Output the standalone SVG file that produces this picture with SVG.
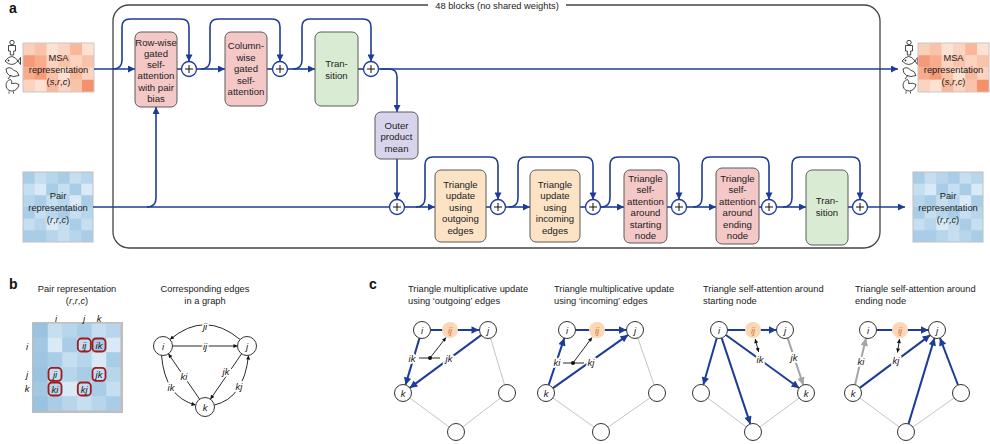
<svg xmlns="http://www.w3.org/2000/svg" xmlns:xlink="http://www.w3.org/1999/xlink" width="990" height="444" viewBox="0 0 990 444">
<style>
text{font-family:"Liberation Sans",Arial,sans-serif;fill:#222;}
.bt{font-size:9.6px;text-anchor:middle;}
.t{font-size:9.3px;}
.tc{font-size:9.3px;text-anchor:middle;}
.lab{font-size:9.5px;font-style:italic;text-anchor:middle;fill:#222;}
.halo{stroke:#fff;stroke-width:3.5px;paint-order:stroke;stroke-linejoin:round;}
.pl{font-weight:bold;font-size:14px;fill:#111;}
.box{stroke:#5a5a5a;stroke-width:1;}
.pink{fill:#f5c8c8;}
.green{fill:#d9ecd3;}
.purple{fill:#d8d4ec;}
.orange{fill:#fde3c6;}
.w{fill:none;stroke:#1d3c97;stroke-width:1.6;}
.wa{fill:none;stroke:#1d3c97;stroke-width:1.6;marker-end:url(#ab);}
.plus circle{fill:#fff;stroke:#1d3c97;stroke-width:1.3;}
.plus path{stroke:#111;stroke-width:1;fill:none;}
.nd{fill:#fff;stroke:#333;stroke-width:1;}
.gl{stroke:#c4c4c4;stroke-width:1;fill:none;}
.bl{stroke:#1d3c97;stroke-width:2;fill:none;marker-end:url(#abc);}
.ga{stroke:#a5a5a5;stroke-width:2;fill:none;marker-end:url(#ag);}
.ka{stroke:#111;stroke-width:0.9;fill:none;marker-end:url(#ak);}
.kd{stroke:#111;stroke-width:0.9;fill:none;marker-end:url(#ak);marker-start:url(#ak);}
.hl{fill:#fbd7b5;}
.hc{font-size:9.5px;font-style:italic;text-anchor:middle;fill:#d07a35;}
.rb{fill:none;stroke:#9e1b1e;stroke-width:1.8;}
.ic{fill:#fff;stroke:#333;stroke-width:0.9;}
</style>
<defs>
<marker id="ab" viewBox="0 0 10 10" refX="10" refY="5" markerUnits="userSpaceOnUse" markerWidth="9" markerHeight="7" orient="auto"><path d="M0,0 L10,5 L0,10 z" fill="#1d3c97"/></marker>
<marker id="abc" viewBox="0 0 10 10" refX="10" refY="5" markerUnits="userSpaceOnUse" markerWidth="10" markerHeight="7.5" orient="auto"><path d="M0,0 L10,5 L0,10 z" fill="#1d3c97"/></marker>
<marker id="ag" viewBox="0 0 10 10" refX="10" refY="5" markerUnits="userSpaceOnUse" markerWidth="10" markerHeight="7.5" orient="auto"><path d="M0,0 L10,5 L0,10 z" fill="#a5a5a5"/></marker>
<marker id="ak" viewBox="0 0 10 10" refX="10" refY="5" markerUnits="userSpaceOnUse" markerWidth="5" markerHeight="4" orient="auto-start-reverse"><path d="M0,0 L10,5 L0,10 z" fill="#111"/></marker>
<g id="msaTex">
<rect x="0" y="0" width="71" height="49" fill="#fbd3c0"/>
<rect x="0" y="0" width="12" height="12.3" fill="#fbd0bb"/><rect x="11.8" y="0" width="12" height="12.3" fill="#f9c3aa"/><rect x="23.6" y="0" width="12" height="12.3" fill="#fde2d4"/><rect x="35.4" y="0" width="12" height="12.3" fill="#fbd3c0"/><rect x="47.2" y="0" width="12" height="12.3" fill="#f8b89c"/><rect x="59" y="0" width="12" height="12.3" fill="#fde2d4"/>
<rect x="0" y="12.25" width="12" height="12.3" fill="#f49a78"/><rect x="11.8" y="12.25" width="12" height="12.3" fill="#f7ad8d"/><rect x="23.6" y="12.25" width="12" height="12.3" fill="#fbd3c0"/><rect x="35.4" y="12.25" width="12" height="12.3" fill="#f9c3aa"/><rect x="47.2" y="12.25" width="12" height="12.3" fill="#fbd3c0"/><rect x="59" y="12.25" width="12" height="12.3" fill="#f9c3aa"/>
<rect x="0" y="24.5" width="12" height="12.3" fill="#f7ad8d"/><rect x="11.8" y="24.5" width="12" height="12.3" fill="#f49a78"/><rect x="23.6" y="24.5" width="12" height="12.3" fill="#f9c3aa"/><rect x="35.4" y="24.5" width="12" height="12.3" fill="#fde2d4"/><rect x="47.2" y="24.5" width="12" height="12.3" fill="#f8b89c"/><rect x="59" y="24.5" width="12" height="12.3" fill="#fbd3c0"/>
<rect x="0" y="36.75" width="12" height="12.25" fill="#fbd3c0"/><rect x="11.8" y="36.75" width="12" height="12.25" fill="#fde2d4"/><rect x="23.6" y="36.75" width="12" height="12.25" fill="#f8b89c"/><rect x="35.4" y="36.75" width="12" height="12.25" fill="#fbd3c0"/><rect x="47.2" y="36.75" width="12" height="12.25" fill="#f9c3aa"/><rect x="59" y="36.75" width="12" height="12.25" fill="#f4906a"/>
<rect x="0" y="0" width="71" height="49" fill="none" stroke="#c8c8c8" stroke-width="1"/>
</g>
<g id="pairTex">
<rect x="0" y="0" width="70" height="70" fill="#b7d5eb"/>
<rect x="0" y="0" width="11.8" height="11.8" fill="#a9cde6"/><rect x="11.67" y="0" width="11.8" height="11.8" fill="#c5def0"/><rect x="23.33" y="0" width="11.8" height="11.8" fill="#b7d5eb"/><rect x="35" y="0" width="11.8" height="11.8" fill="#a9cde6"/><rect x="46.67" y="0" width="11.8" height="11.8" fill="#c5def0"/><rect x="58.33" y="0" width="11.67" height="11.8" fill="#b7d5eb"/>
<rect x="0" y="11.67" width="11.8" height="11.8" fill="#c5def0"/><rect x="11.67" y="11.67" width="11.8" height="11.8" fill="#d9e9f5"/><rect x="23.33" y="11.67" width="11.8" height="11.8" fill="#a9cde6"/><rect x="35" y="11.67" width="11.8" height="11.8" fill="#c5def0"/><rect x="46.67" y="11.67" width="11.8" height="11.8" fill="#a9cde6"/><rect x="58.33" y="11.67" width="11.67" height="11.8" fill="#d9e9f5"/>
<rect x="0" y="23.33" width="11.8" height="11.8" fill="#b7d5eb"/><rect x="11.67" y="23.33" width="11.8" height="11.8" fill="#a9cde6"/><rect x="23.33" y="23.33" width="11.8" height="11.8" fill="#c5def0"/><rect x="35" y="23.33" width="11.8" height="11.8" fill="#b7d5eb"/><rect x="46.67" y="23.33" width="11.8" height="11.8" fill="#d9e9f5"/><rect x="58.33" y="23.33" width="11.67" height="11.8" fill="#a9cde6"/>
<rect x="0" y="35" width="11.8" height="11.8" fill="#a9cde6"/><rect x="11.67" y="35" width="11.8" height="11.8" fill="#c5def0"/><rect x="23.33" y="35" width="11.8" height="11.8" fill="#b7d5eb"/><rect x="35" y="35" width="11.8" height="11.8" fill="#a9cde6"/><rect x="46.67" y="35" width="11.8" height="11.8" fill="#c5def0"/><rect x="58.33" y="35" width="11.67" height="11.8" fill="#b7d5eb"/>
<rect x="0" y="46.67" width="11.8" height="11.8" fill="#c5def0"/><rect x="11.67" y="46.67" width="11.8" height="11.8" fill="#b7d5eb"/><rect x="23.33" y="46.67" width="11.8" height="11.8" fill="#d9e9f5"/><rect x="35" y="46.67" width="11.8" height="11.8" fill="#c5def0"/><rect x="46.67" y="46.67" width="11.8" height="11.8" fill="#a9cde6"/><rect x="58.33" y="46.67" width="11.67" height="11.8" fill="#c5def0"/>
<rect x="0" y="58.33" width="11.8" height="11.67" fill="#a9cde6"/><rect x="11.67" y="58.33" width="11.8" height="11.67" fill="#a9cde6"/><rect x="23.33" y="58.33" width="11.8" height="11.67" fill="#b7d5eb"/><rect x="35" y="58.33" width="11.8" height="11.67" fill="#c5def0"/><rect x="46.67" y="58.33" width="11.8" height="11.67" fill="#b7d5eb"/><rect x="58.33" y="58.33" width="11.67" height="11.67" fill="#a9cde6"/>
<rect x="0" y="0" width="70" height="70" fill="none" stroke="#c0c0c0" stroke-width="1"/>
</g>
<g id="icons">
<circle class="ic" cx="9" cy="2.5" r="2.2"/>
<path class="ic" d="M5.5,5.5 h7 v5.5 h-1.8 v4 h-3.4 v-4 h-1.8 z"/>
<path class="ic" d="M2,21 Q9,12 15,21 Q9,28 2,21 z M15,21 l2.5,-3.5 v7 z"/>
<circle cx="5.5" cy="20.5" r="0.9" fill="#333"/>
<path class="ic" d="M3,29 q4,-3 7.5,1 q4.5,1 5.5,5.5 q-5.5,2 -9.5,0 q-3.5,-2 -3.5,-6.5 z M8,35 l-3,4"/>
<path class="ic" d="M3,46 q0,-5.5 4.5,-6.5 q2,2 1,4 q4.5,-1 7.5,1 q-1,5.5 -6.5,6.5 q-5.5,0 -6.5,-5 z M6,51.5 v2 M10.5,51.5 v2"/>
</g>
</defs>

<rect width="990" height="444" fill="#fff"/>

<text class="pl" x="9" y="13">a</text>
<text class="pl" x="9" y="289">b</text>
<text class="pl" x="369" y="289">c</text>

<!-- frame -->
<g id="frame">
<rect x="113" y="5" width="767" height="243" rx="16" fill="none" stroke="#444" stroke-width="1.3"/>
<rect x="428" y="0" width="138" height="11" fill="#fff"/>
<text class="tc" x="497" y="8.5">48 blocks (no shared weights)</text>
</g>

<!-- inputs / outputs -->
<g id="msa-in">
<use xlink:href="#icons" x="3" y="40"/>
<use xlink:href="#msaTex" x="23" y="43"/>
<text class="tc" x="58.5" y="61">MSA</text>
<text class="tc" x="58.5" y="73">representation</text>
<text class="tc" x="58.5" y="85">(<tspan font-style="italic">s</tspan>,<tspan font-style="italic">r</tspan>,<tspan font-style="italic">c</tspan>)</text>
</g>
<g id="pair-in">
<use xlink:href="#pairTex" x="23" y="172"/>
<text class="tc" x="58" y="199">Pair</text>
<text class="tc" x="58" y="211">representation</text>
<text class="tc" x="58" y="223">(<tspan font-style="italic">r</tspan>,<tspan font-style="italic">r</tspan>,<tspan font-style="italic">c</tspan>)</text>
</g>
<g id="msa-out">
<use xlink:href="#icons" x="900" y="40"/>
<use xlink:href="#msaTex" x="918" y="43"/>
<text class="tc" x="953.5" y="61">MSA</text>
<text class="tc" x="953.5" y="73">representation</text>
<text class="tc" x="953.5" y="85">(<tspan font-style="italic">s</tspan>,<tspan font-style="italic">r</tspan>,<tspan font-style="italic">c</tspan>)</text>
</g>
<g id="pair-out">
<use xlink:href="#pairTex" x="913" y="172"/>
<text class="tc" x="948" y="199">Pair</text>
<text class="tc" x="948" y="211">representation</text>
<text class="tc" x="948" y="223">(<tspan font-style="italic">r</tspan>,<tspan font-style="italic">r</tspan>,<tspan font-style="italic">c</tspan>)</text>
</g>

<!-- connectors -->
<g id="connectors">
<path class="wa" d="M94,69 H135"/>
<path class="wa" d="M113,69 C119,69 122,66 122,60 V27 Q122,19 130,19 H181 Q189,19 189,27 V61.5"/>
<path class="w" d="M177,69 H181.5"/>
<path class="wa" d="M196.5,69 H225"/>
<path class="wa" d="M201,69 C207,69 210,66 210,60 V27 Q210,19 218,19 H272 Q280,19 280,27 V61.5"/>
<path class="w" d="M267,69 H272.5"/>
<path class="wa" d="M287.5,69 H315"/>
<path class="wa" d="M293,69 C299,69 302,66 302,60 V27 Q302,19 310,19 H363 Q371,19 371,27 V61.5"/>
<path class="w" d="M358,69 H363.5"/>
<path class="wa" d="M378.5,69 H898"/>
<path class="wa" d="M380,69 H389 Q397,69 397,77 V112"/>
<path class="wa" d="M397,159 V199.5"/>

<path class="w" d="M93,207 H389.5"/>
<path class="wa" d="M147,207 C153,207 156,204 156,198 V107"/>
<path class="wa" d="M404.5,207 H435"/>
<path class="wa" d="M416,207 C422,207 425,204 425,198 V165 Q425,157 433,157 H490 Q498,157 498,165 V199.5"/>
<path class="w" d="M486,207 H490.5"/>
<path class="wa" d="M505.5,207 H530"/>
<path class="wa" d="M509,207 C515,207 518,204 518,198 V165 Q518,157 526,157 H585 Q593,157 593,165 V199.5"/>
<path class="w" d="M580,207 H585.5"/>
<path class="wa" d="M600.5,207 H624"/>
<path class="wa" d="M601,207 C607,207 610,204 610,198 V165 Q610,157 618,157 H671 Q679,157 679,165 V199.5"/>
<path class="w" d="M667,207 H671.5"/>
<path class="wa" d="M686.5,207 H716"/>
<path class="wa" d="M693,207 C699,207 702,204 702,198 V165 Q702,157 710,157 H761 Q769,157 769,165 V199.5"/>
<path class="w" d="M759,207 H761.5"/>
<path class="wa" d="M776.5,207 H806"/>
<path class="wa" d="M783,207 C789,207 792,204 792,198 V165 Q792,157 800,157 H852 Q860,157 860,165 V199.5"/>
<path class="w" d="M848,207 H852.5"/>
<path class="wa" d="M867.5,207 H905"/>
</g>

<!-- plus nodes -->
<g id="plus-nodes" class="plus">
<g id="p1"><circle cx="189" cy="69" r="7.5"/><path d="M185,69 h8 M189,65 v8"/></g>
<g id="p2"><circle cx="280" cy="69" r="7.5"/><path d="M276,69 h8 M280,65 v8"/></g>
<g id="p3"><circle cx="371" cy="69" r="7.5"/><path d="M367,69 h8 M371,65 v8"/></g>
<g id="p4"><circle cx="397" cy="207" r="7.5"/><path d="M393,207 h8 M397,203 v8"/></g>
<g id="p5"><circle cx="498" cy="207" r="7.5"/><path d="M494,207 h8 M498,203 v8"/></g>
<g id="p6"><circle cx="593" cy="207" r="7.5"/><path d="M589,207 h8 M593,203 v8"/></g>
<g id="p7"><circle cx="679" cy="207" r="7.5"/><path d="M675,207 h8 M679,203 v8"/></g>
<g id="p8"><circle cx="769" cy="207" r="7.5"/><path d="M765,207 h8 M769,203 v8"/></g>
<g id="p9"><circle cx="860" cy="207" r="7.5"/><path d="M856,207 h8 M860,203 v8"/></g>
</g>

<!-- blocks -->
<g id="row-attn">
<rect class="box pink" x="135" y="32" width="42" height="75" rx="6"/>
<text class="bt" x="156" y="45.5">Row-wise</text>
<text class="bt" x="156" y="56.8">gated</text>
<text class="bt" x="156" y="68.1">self-</text>
<text class="bt" x="156" y="79.4">attention</text>
<text class="bt" x="156" y="90.7">with pair</text>
<text class="bt" x="156" y="102">bias</text>
</g>
<g id="col-attn">
<rect class="box pink" x="225" y="32" width="42" height="74" rx="6"/>
<text class="bt" x="246" y="49">Column-</text>
<text class="bt" x="246" y="60.6">wise</text>
<text class="bt" x="246" y="72.2">gated</text>
<text class="bt" x="246" y="83.8">self-</text>
<text class="bt" x="246" y="95.4">attention</text>
</g>
<g id="msa-trans">
<rect class="box green" x="315" y="32" width="43" height="74" rx="6"/>
<text class="bt" x="336.5" y="66.5">Tran-</text>
<text class="bt" x="336.5" y="78.5">sition</text>
</g>
<g id="opm">
<rect class="box purple" x="375" y="112" width="43" height="47" rx="6"/>
<text class="bt" x="396.5" y="128.5">Outer</text>
<text class="bt" x="396.5" y="140">product</text>
<text class="bt" x="396.5" y="151.5">mean</text>
</g>
<g id="tri-out">
<rect class="box orange" x="435" y="170" width="51" height="72" rx="6"/>
<text class="bt" x="460.5" y="187.5">Triangle</text>
<text class="bt" x="460.5" y="199">update</text>
<text class="bt" x="460.5" y="210.5">using</text>
<text class="bt" x="460.5" y="222">outgoing</text>
<text class="bt" x="460.5" y="233.5">edges</text>
</g>
<g id="tri-in">
<rect class="box orange" x="530" y="170" width="50" height="72" rx="6"/>
<text class="bt" x="555" y="187.5">Triangle</text>
<text class="bt" x="555" y="199">update</text>
<text class="bt" x="555" y="210.5">using</text>
<text class="bt" x="555" y="222">incoming</text>
<text class="bt" x="555" y="233.5">edges</text>
</g>
<g id="tri-start">
<rect class="box pink" x="624" y="170" width="43" height="73" rx="6"/>
<text class="bt" x="645.5" y="181.5">Triangle</text>
<text class="bt" x="645.5" y="193">self-</text>
<text class="bt" x="645.5" y="204.5">attention</text>
<text class="bt" x="645.5" y="216">around</text>
<text class="bt" x="645.5" y="227.5">starting</text>
<text class="bt" x="645.5" y="239">node</text>
</g>
<g id="tri-end">
<rect class="box pink" x="716" y="168" width="43" height="76" rx="6"/>
<text class="bt" x="737.5" y="181.5">Triangle</text>
<text class="bt" x="737.5" y="193">self-</text>
<text class="bt" x="737.5" y="204.5">attention</text>
<text class="bt" x="737.5" y="216">around</text>
<text class="bt" x="737.5" y="227.5">ending</text>
<text class="bt" x="737.5" y="239">node</text>
</g>
<g id="pair-trans">
<rect class="box green" x="806" y="170" width="42" height="75" rx="6"/>
<text class="bt" x="827" y="204">Tran-</text>
<text class="bt" x="827" y="216">sition</text>
</g>

<!-- panel b -->
<g id="b-matrix">
<text class="tc" x="77" y="292">Pair representation</text>
<text class="tc" x="77" y="304">(<tspan font-style="italic">r</tspan>,<tspan font-style="italic">r</tspan>,<tspan font-style="italic">c</tspan>)</text>
<rect x="32" y="322" width="91" height="91" fill="#bdbdbd"/>
<g transform="translate(33,323) scale(1.257)"><use xlink:href="#pairTex"/></g>
<rect x="33" y="323" width="14.7" height="88" fill="#93bfdd" opacity="0.7"/>
<text class="lab" x="56" y="322">i</text>
<text class="lab" x="84" y="322">j</text>
<text class="lab" x="99" y="322">k</text>
<text class="lab" x="27" y="350">i</text>
<text class="lab" x="27" y="378">j</text>
<text class="lab" x="27" y="392">k</text>
<rect class="rb" x="77.8" y="338.5" width="13" height="13" rx="3.5"/><text class="lab" x="84.3" y="348.5">ij</text>
<rect class="rb" x="92.5" y="338.5" width="13" height="13" rx="3.5"/><text class="lab" x="99" y="348.5">ik</text>
<rect class="rb" x="48.5" y="367.8" width="13" height="13" rx="3.5"/><text class="lab" x="55" y="377.8">ji</text>
<rect class="rb" x="92.5" y="367.8" width="13" height="13" rx="3.5"/><text class="lab" x="99" y="377.8">jk</text>
<rect class="rb" x="48.5" y="382.5" width="13" height="13" rx="3.5"/><text class="lab" x="55" y="392.5">ki</text>
<rect class="rb" x="77.8" y="382.5" width="13" height="13" rx="3.5"/><text class="lab" x="84.3" y="392.5">kj</text>
</g>
<g id="b-graph">
<text class="tc" x="205" y="292">Corresponding edges</text>
<text class="tc" x="205" y="304">in a graph</text>
<path class="ka" d="M172.5,346 H237.5"/>
<path class="ka" d="M240,339.5 Q205,310 170,339.5"/>
<path class="ka" d="M161.5,355.5 Q165,397 195.5,405"/>
<path class="ka" d="M199.6,399.2 L168.4,353.8"/>
<path class="ka" d="M241.6,353.8 L210.4,399.2"/>
<path class="ka" d="M214.5,405 Q244,398 248.5,355.5"/>
<text class="lab halo" x="205" y="349.5">ij</text>
<text class="lab halo" x="205" y="329.5">ji</text>
<text class="lab halo" x="171" y="391">ik</text>
<text class="lab halo" x="184" y="380">ki</text>
<text class="lab halo" x="226" y="375">jk</text>
<text class="lab halo" x="239" y="390">kj</text>
<circle class="nd" cx="163" cy="346" r="9.5"/><text class="lab" x="163" y="349.5">i</text>
<circle class="nd" cx="247" cy="346" r="9.5"/><text class="lab" x="247" y="349.5">j</text>
<circle class="nd" cx="205" cy="407" r="9.5"/><text class="lab" x="205" y="410.5">k</text>
</g>

<!-- panel c -->
<g id="c-outgoing">
<text class="t" x="408" y="292">Triangle multiplicative update</text>
<text class="t" x="408" y="304">using ‘outgoing’ edges</text>
<path class="gl" d="M488,330 L507,393 L456,432 L403,393"/>
<path class="bl" d="M430.5,330 H479"/>
<path class="bl" d="M419.5,338.1 L405.5,384.9"/>
<path class="bl" d="M481.2,335.1 L409.8,387.9"/>
<text class="lab halo" x="412" y="362">ik</text>
<text class="lab halo" x="449" y="362">jk</text>
<path d="M419,358 H440" stroke="#111" stroke-width="0.9"/>
<circle cx="430" cy="358" r="2" fill="#111"/>
<path class="ka" d="M430,358 L446,337.5"/>
<circle class="hl" cx="450" cy="330" r="8"/><text class="hc" x="450" y="333.5">ij</text>
<circle class="nd" cx="422" cy="330" r="8.5"/><text class="lab" x="422" y="333.5">i</text>
<circle class="nd" cx="488" cy="330" r="8.5"/><text class="lab" x="488" y="333.5">j</text>
<circle class="nd" cx="403" cy="393" r="8.5"/><text class="lab" x="403" y="396.5">k</text>
<circle class="nd" cx="507" cy="393" r="8.5"/>
<circle class="nd" cx="456" cy="432" r="8.5"/>
</g>
<g id="c-incoming">
<text class="t" x="554" y="292">Triangle multiplicative update</text>
<text class="t" x="554" y="304">using ‘incoming’ edges</text>
<path class="gl" d="M635,330 L657,393 L601,432 L546,393"/>
<path class="bl" d="M575.5,330 H626.5"/>
<path class="bl" d="M548.7,384.9 L564.3,338.1"/>
<path class="bl" d="M552.9,388.1 L628.1,334.9"/>
<text class="lab halo" x="557" y="366">ki</text>
<text class="lab halo" x="591" y="366">kj</text>
<path d="M563,363 H584" stroke="#111" stroke-width="0.9"/>
<circle cx="573" cy="363" r="2" fill="#111"/>
<path class="ka" d="M573,363 L592,337.5"/>
<circle class="hl" cx="597" cy="330" r="8"/><text class="hc" x="597" y="333.5">ij</text>
<circle class="nd" cx="567" cy="330" r="8.5"/><text class="lab" x="567" y="333.5">i</text>
<circle class="nd" cx="635" cy="330" r="8.5"/><text class="lab" x="635" y="333.5">j</text>
<circle class="nd" cx="546" cy="393" r="8.5"/><text class="lab" x="546" y="396.5">k</text>
<circle class="nd" cx="657" cy="393" r="8.5"/>
<circle class="nd" cx="601" cy="432" r="8.5"/>
</g>
<g id="c-starting">
<text class="t" x="703" y="292">Triangle self-attention around</text>
<text class="t" x="703" y="304">starting node</text>
<path class="gl" d="M701,393 L753,432 L806,393"/>
<path class="bl" d="M727.5,330 H776.5"/>
<path class="bl" d="M716.7,338.2 L703.3,384.8"/>
<path class="bl" d="M721.7,338.1 L750.3,423.9"/>
<path class="bl" d="M725.9,335 L799.1,388"/>
<path class="ga" d="M787.7,338.1 L803.3,384.9"/>
<text class="lab halo" x="760" y="363">ik</text>
<text class="lab halo" x="794" y="361">jk</text>
<path class="kd" d="M755.2,339 L758.6,352"/>
<circle class="hl" cx="753" cy="330" r="8"/><text class="hc" x="753" y="333.5">ij</text>
<circle class="nd" cx="719" cy="330" r="8.5"/><text class="lab" x="719" y="333.5">i</text>
<circle class="nd" cx="785" cy="330" r="8.5"/><text class="lab" x="785" y="333.5">j</text>
<circle class="nd" cx="806" cy="393" r="8.5"/><text class="lab" x="806" y="396.5">k</text>
<circle class="nd" cx="701" cy="393" r="8.5"/>
<circle class="nd" cx="753" cy="432" r="8.5"/>
</g>
<g id="c-ending">
<text class="t" x="855" y="292">Triangle self-attention around</text>
<text class="t" x="855" y="304">ending node</text>
<path class="gl" d="M853,393 L906,432 L961,393"/>
<path class="bl" d="M876.5,330 H928.5"/>
<path class="bl" d="M859.8,387.9 L930.2,335.1"/>
<path class="bl" d="M908.5,423.9 L934.5,338.1"/>
<path class="bl" d="M958,385 L940,338.1"/>
<path class="ga" d="M855,384.7 L866,338.3"/>
<text class="lab halo" x="861" y="365">ki</text>
<text class="lab halo" x="896" y="364">kj</text>
<path class="kd" d="M899.5,339 L897.5,352.5"/>
<circle class="hl" cx="900" cy="330" r="8"/><text class="hc" x="900" y="333.5">ij</text>
<circle class="nd" cx="868" cy="330" r="8.5"/><text class="lab" x="868" y="333.5">i</text>
<circle class="nd" cx="937" cy="330" r="8.5"/><text class="lab" x="937" y="333.5">j</text>
<circle class="nd" cx="853" cy="393" r="8.5"/><text class="lab" x="853" y="396.5">k</text>
<circle class="nd" cx="961" cy="393" r="8.5"/>
<circle class="nd" cx="906" cy="432" r="8.5"/>
</g>
</svg>
